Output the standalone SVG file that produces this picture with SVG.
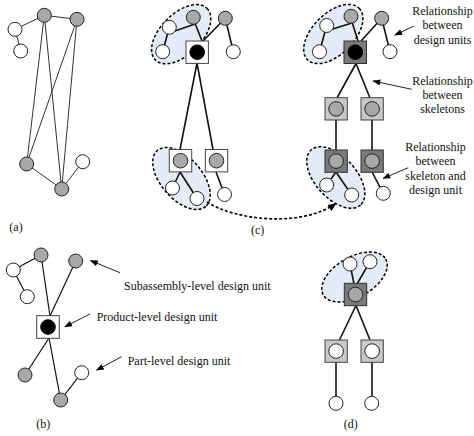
<svg xmlns="http://www.w3.org/2000/svg" width="474" height="436" viewBox="0 0 474 436">
<style>
text{font-family:"Liberation Serif","Times New Roman",serif;font-size:12px;fill:#111}
.c{text-anchor:middle}
.g{fill:#a8a8a8;stroke:#222;stroke-width:1}
.w{fill:#fff;stroke:#222;stroke-width:1}
.b{fill:#000;stroke:#000;stroke-width:1}
.sqw{fill:#fff;stroke:#444;stroke-width:1}
.sql{fill:#c8c8c8;stroke:#444;stroke-width:1}
.sqd{fill:#7a7a7a;stroke:#333;stroke-width:1}
.ell{fill:#e3ebf6;stroke:#000;stroke-width:1.5;stroke-dasharray:3 2}
.la{stroke:#333;stroke-width:1;fill:none}
.lb{stroke:#111;stroke-width:1.2;fill:none}
.lc{stroke:#111;stroke-width:1.6;fill:none}
.ar{stroke:#222;stroke-width:1;fill:none;marker-end:url(#ah)}
.dash{stroke:#000;stroke-width:1.6;fill:none;stroke-dasharray:3 2;marker-end:url(#ah2)}
</style>
<defs>
<marker id="ah" markerWidth="8" markerHeight="6" refX="7" refY="3" orient="auto" markerUnits="userSpaceOnUse"><path d="M0,0 L8,3 L0,6 Z" fill="#000"/></marker>
<marker id="ah2" markerWidth="9" markerHeight="7" refX="8" refY="3.5" orient="auto" markerUnits="userSpaceOnUse"><path d="M0,0 L9,3.5 L0,7 Z" fill="#000"/></marker>
</defs>

<!-- ellipses (background) -->
<g id="ellipses">
<ellipse class="ell" cx="181.2" cy="34.2" rx="36.5" ry="20.5" transform="rotate(-45 181.2 34.2)"/>
<ellipse class="ell" cx="181.5" cy="178.5" rx="37" ry="20.5" transform="rotate(49 181.5 178.5)"/>
<ellipse class="ell" cx="333.3" cy="34" rx="36.5" ry="20.5" transform="rotate(-45 333.3 34)"/>
<ellipse class="ell" cx="335.8" cy="177.5" rx="37" ry="20.5" transform="rotate(48 335.8 177.5)"/>
<ellipse class="ell" cx="354.5" cy="277" rx="36" ry="20" transform="rotate(-30 354.5 277)"/>
</g>

<g id="connectors">
<!-- (a) -->
<line class="la" x1="15" y1="29.3" x2="44.3" y2="15.3"/>
<line class="la" x1="15" y1="29.3" x2="20.7" y2="51"/>
<line class="la" x1="44.3" y1="15.3" x2="77" y2="19.3"/>
<line class="la" x1="44.3" y1="15.3" x2="26.7" y2="164"/>
<line class="la" x1="44.3" y1="15.3" x2="61.7" y2="189"/>
<line class="la" x1="77" y1="19.3" x2="26.7" y2="164"/>
<line class="la" x1="77" y1="19.3" x2="61.7" y2="189"/>
<line class="la" x1="26.7" y1="164" x2="61.7" y2="189"/>
<line class="la" x1="61.7" y1="189" x2="82.7" y2="161.7"/>
<!-- (b) -->
<line class="lb" x1="13.3" y1="270" x2="41" y2="255"/>
<line class="lb" x1="13.3" y1="270" x2="27.3" y2="296.7"/>
<line class="lb" x1="41" y1="255" x2="50" y2="316"/>
<line class="lb" x1="75.7" y1="261" x2="50" y2="316"/>
<line class="lb" x1="49" y1="338" x2="25" y2="375"/>
<line class="lb" x1="49" y1="338" x2="60.7" y2="400"/>
<line class="lb" x1="60.7" y1="400" x2="81.7" y2="372.7"/>
<!-- (c) left -->
<line class="lc" x1="172" y1="32" x2="195" y2="24"/>
<line class="lc" x1="169.3" y1="27.3" x2="162.7" y2="51.7"/>
<line class="lc" x1="194.5" y1="22" x2="202" y2="41"/>
<line class="lc" x1="225.3" y1="18.3" x2="203" y2="41"/>
<line class="lc" x1="225.3" y1="18.3" x2="233.3" y2="51.7"/>
<line class="lc" x1="197" y1="63" x2="180" y2="149.5"/>
<line class="lc" x1="197" y1="63" x2="213" y2="149.5"/>
<line class="lc" x1="180" y1="172" x2="172.5" y2="188"/>
<line class="lc" x1="180" y1="172" x2="197" y2="198.5"/>
<line class="lc" x1="216" y1="172" x2="224.5" y2="194.5"/>
<!-- (c) right -->
<line class="lc" x1="329.5" y1="30" x2="352" y2="23"/>
<line class="lc" x1="326.7" y1="25.5" x2="319.5" y2="51.7"/>
<line class="lc" x1="352" y1="22" x2="358" y2="41"/>
<line class="lc" x1="381.7" y1="18.3" x2="361" y2="41"/>
<line class="lc" x1="381.7" y1="18.3" x2="390" y2="51.7"/>
<line class="lc" x1="356" y1="63.5" x2="337" y2="98"/>
<line class="lc" x1="356" y1="63.5" x2="370" y2="98"/>
<line class="lc" x1="336" y1="120" x2="336" y2="150"/>
<line class="lc" x1="372" y1="120" x2="372" y2="150"/>
<line class="lc" x1="336" y1="172" x2="326.7" y2="185"/>
<line class="lc" x1="336" y1="172" x2="351.7" y2="195"/>
<line class="lc" x1="372" y1="172" x2="383.3" y2="193.3"/>
<!-- (d) -->
<line class="lc" x1="354" y1="284" x2="350" y2="264"/>
<line class="lc" x1="357" y1="284" x2="370" y2="261.7"/>
<line class="lc" x1="356" y1="305.5" x2="339.5" y2="340"/>
<line class="lc" x1="356" y1="305.5" x2="370" y2="340"/>
<line class="lc" x1="336" y1="362" x2="336" y2="403"/>
<line class="lc" x1="372" y1="362" x2="372" y2="403"/>
<!-- dashed relation arrow -->
<path class="dash" d="M207,202 C235,220 300,228 336,203.5"/>
<!-- label arrows -->
<line class="ar" x1="120" y1="272.7" x2="90.7" y2="260.7"/>
<line class="ar" x1="90" y1="314" x2="65" y2="326.7"/>
<line class="ar" x1="121.7" y1="356.7" x2="96.7" y2="370"/>
<line class="ar" x1="414" y1="26" x2="395" y2="35"/>
<line class="ar" x1="411.7" y1="89.3" x2="373.3" y2="81"/>
<line class="ar" x1="408.3" y1="167.7" x2="383.3" y2="178.3"/>
</g>

<!-- (a) nodes -->
<g id="a-nodes">
<circle class="g" cx="44.3" cy="15.3" r="7"/>
<circle class="g" cx="77" cy="19.3" r="7"/>
<circle class="w" cx="15" cy="29.3" r="7"/>
<circle class="w" cx="20.7" cy="51" r="7"/>
<circle class="g" cx="26.7" cy="164" r="7"/>
<circle class="g" cx="61.7" cy="189" r="7"/>
<circle class="w" cx="82.7" cy="161.7" r="7"/>
</g>

<!-- (b) nodes -->
<g id="b-nodes">
<circle class="g" cx="41" cy="255" r="7"/>
<circle class="g" cx="75.7" cy="261" r="7"/>
<circle class="w" cx="13.3" cy="270" r="7"/>
<circle class="w" cx="27.3" cy="296.7" r="7"/>
<rect class="sqw" x="36.7" y="315.7" width="22.6" height="22.6"/>
<circle class="b" cx="48" cy="327" r="7.3"/>
<circle class="g" cx="25" cy="375" r="7"/>
<circle class="g" cx="60.7" cy="400" r="7"/>
<circle class="w" cx="81.7" cy="372.7" r="7"/>
</g>

<!-- (c) left nodes -->
<g id="c-left-nodes">
<circle class="g" cx="193.3" cy="17.3" r="7"/>
<circle class="w" cx="169.3" cy="27.3" r="7"/>
<circle class="w" cx="162.7" cy="51.7" r="7"/>
<rect class="sqw" x="186" y="41" width="22.4" height="22.4"/>
<circle class="b" cx="197.2" cy="52.2" r="7.3"/>
<circle class="g" cx="225.3" cy="18.3" r="7"/>
<circle class="w" cx="233.3" cy="51.7" r="7"/>
<rect class="sqw" x="169.3" y="149.5" width="22.4" height="22.4"/>
<circle class="g" cx="180.5" cy="160.7" r="7.3"/>
<rect class="sqw" x="205.3" y="149.5" width="22.4" height="22.4"/>
<circle class="g" cx="216.5" cy="160.7" r="7.3"/>
<circle class="w" cx="172.5" cy="188" r="7"/>
<circle class="w" cx="197" cy="198.5" r="7"/>
<circle class="w" cx="224.5" cy="194.5" r="7"/>
</g>

<!-- (c) right nodes -->
<g id="c-right-nodes">
<circle class="g" cx="351" cy="16.3" r="7"/>
<circle class="w" cx="326.7" cy="25.5" r="7"/>
<circle class="w" cx="319.5" cy="51.7" r="7"/>
<rect class="sqd" x="344" y="41" width="22.5" height="22.5"/>
<circle class="b" cx="355.3" cy="52.2" r="7.3"/>
<circle class="g" cx="381.7" cy="18.3" r="7"/>
<circle class="w" cx="390" cy="51.7" r="7"/>
<rect class="sql" x="325" y="97.7" width="22.3" height="22.3"/>
<circle class="g" cx="336.1" cy="108.9" r="7.3"/>
<rect class="sql" x="361" y="97.7" width="22.3" height="22.3"/>
<circle class="g" cx="372.1" cy="108.9" r="7.3"/>
<rect class="sqd" x="325" y="150" width="22.3" height="22.3"/>
<circle class="g" cx="336.1" cy="161.1" r="7.3"/>
<rect class="sqd" x="361" y="150" width="22.3" height="22.3"/>
<circle class="g" cx="372.1" cy="161.1" r="7.3"/>
<circle class="w" cx="326.7" cy="185" r="7"/>
<circle class="w" cx="351.7" cy="195" r="7"/>
<circle class="w" cx="383.3" cy="193.3" r="7"/>
</g>

<!-- (d) nodes -->
<g id="d-nodes">
<circle class="w" cx="350" cy="264" r="7"/>
<circle class="w" cx="370" cy="261.7" r="7"/>
<rect class="sqd" x="344.3" y="283.3" width="22.4" height="22.4"/>
<circle class="g" cx="355.5" cy="294.5" r="7.3"/>
<rect class="sql" x="325" y="340" width="22.3" height="22.3"/>
<circle class="w" cx="336.1" cy="351.1" r="7.3"/>
<rect class="sql" x="361" y="340" width="22.3" height="22.3"/>
<circle class="w" cx="372.1" cy="351.1" r="7.3"/>
<circle class="w" cx="336" cy="403.3" r="7"/>
<circle class="w" cx="371.7" cy="403.3" r="7"/>
</g>

<g id="labels">
<text class="c" x="16" y="231">(a)</text>
<text class="c" x="43.3" y="428">(b)</text>
<text class="c" x="257.7" y="234">(c)</text>
<text class="c" x="350.7" y="428">(d)</text>
<text x="124" y="289.5">Subassembly-level design unit</text>
<text x="96.7" y="320.5">Product-level design unit</text>
<text x="127.7" y="364.5">Part-level design unit</text>
<text class="c" x="442.5" y="15">Relationship</text>
<text class="c" x="442.5" y="29.3">between</text>
<text class="c" x="442.5" y="43.5">design units</text>
<text class="c" x="442.5" y="85">Relationship</text>
<text class="c" x="442.5" y="99">between</text>
<text class="c" x="442.5" y="113">skeletons</text>
<text class="c" x="435.5" y="150.5">Relationship</text>
<text class="c" x="435.5" y="165">between</text>
<text class="c" x="435.5" y="179.5">skeleton and</text>
<text class="c" x="435.5" y="194">design unit</text>
</g>
</svg>
